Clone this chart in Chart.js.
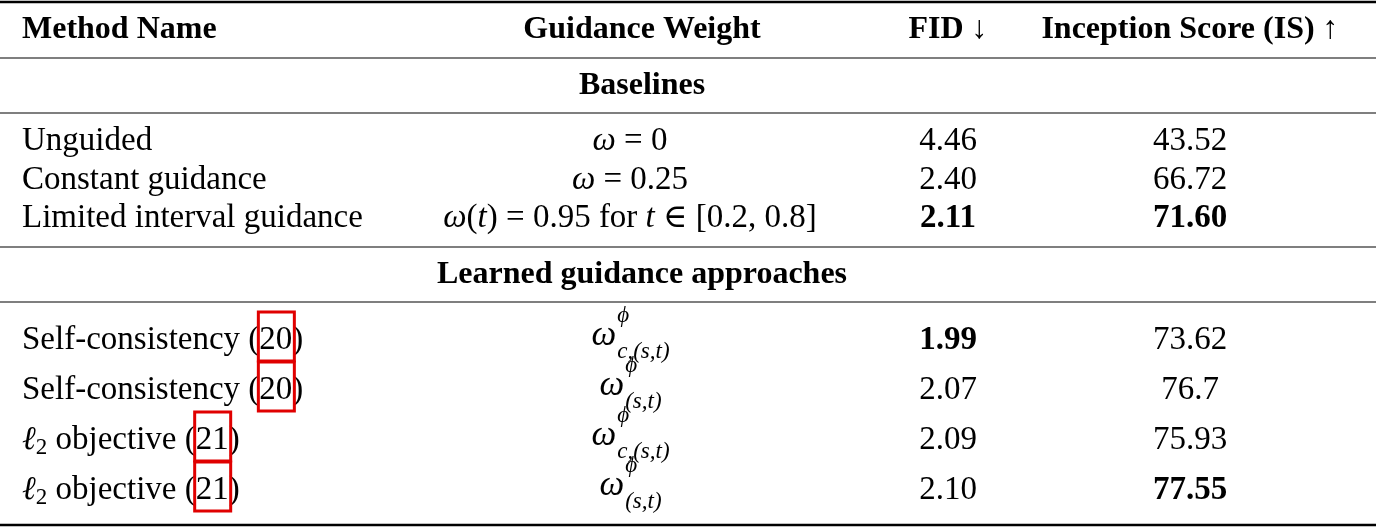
<!DOCTYPE html>
<html>
<head>
<meta charset="utf-8">
<script src="https://cdn.jsdelivr.net/npm/chart.js@4.4.1/dist/chart.umd.min.js"></script>
<style>
  html, body { margin: 0; padding: 0; background: #fff; }
  #wrap { width: 1376px; height: 530px; }
</style>
</head>
<body>
<div id="wrap"><canvas id="tableChart"></canvas></div>
<script>
// Table data
const headers = ["Method Name", "Guidance Weight", "FID \u2193", "Inception Score (IS) \u2191"];
const groups = ["Baselines", "Learned guidance approaches"];
const methods = ["Unguided", "Constant guidance", "Limited interval guidance",
  "Self-consistency (20)", "Self-consistency (20)", "\u2113\u2082 objective (21)", "\u2113\u2082 objective (21)"];
const weights = ["w0", "w025", "wint", "wcst", "wst", "wcst", "wst"];
const fidValues = ["4.46", "2.40", "2.11", "1.99", "2.07", "2.09", "2.10"];
const isValues = ["43.52", "66.72", "71.60", "73.62", "76.7", "75.93", "77.55"];
const fidBold = [false, false, true, true, false, false, false];
const isBold = [false, false, true, false, false, false, true];

// layout (in chart value units = pixels)
const rowY = [141, 180, 218, 340, 390, 440, 490];
const groupY = [86, 275];
const ruleY = [[2, 2.5], [58, 1.2], [113, 1.2], [247, 1.2], [302, 1.2], [525, 2.5]];
const colX = [22, 630, 948, 1190];
const SERIF = "'Liberation Serif', 'DejaVu Serif', serif";
const FS = 33, SS = 23;

function font(size, opts) {
  return (opts || "") + " " + size + "px " + SERIF;
}

// draw a sequence of [text, fontOpts, size, dy] pieces
function drawPieces(ctx, pieces, cx, cy, align) {
  let total = 0;
  for (const p of pieces) { ctx.font = font(p[2], p[1]); total += ctx.measureText(p[0]).width; }
  let x = align === "left" ? cx : cx - total / 2;
  for (const p of pieces) {
    ctx.font = font(p[2], p[1]);
    ctx.fillText(p[0], x, cy + (p[3] || 0));
    x += ctx.measureText(p[0]).width;
  }
  return total;
}

function weightPieces(key) {
  const I = "italic";
  if (key === "w0") return [["\u03c9", I, FS], [" = 0", "", FS]];
  if (key === "w025") return [["\u03c9", I, FS], [" = 0.25", "", FS]];
  if (key === "wint") return [["\u03c9", I, FS], ["(", "", FS], ["t", I, FS], [") = 0.95 for ", "", FS],
    ["t", I, FS], [" \u2208 [0.2, 0.8]", "", FS]];
  return null;
}

function drawOmega(ctx, key, cx, cy) {
  const sub = key === "wcst" ? "c,(s,t)" : "(s,t)";
  ctx.font = font(FS + 2, "italic");
  const w1 = ctx.measureText("\u03c9").width;
  ctx.font = font(SS, "italic");
  const w2 = ctx.measureText(sub).width;
  let x = cx - (w1 + w2) / 2;
  ctx.font = font(FS + 2, "italic");
  ctx.fillText("\u03c9", x, cy - 4);
  x += w1 + 1;
  ctx.font = font(SS, "italic");
  ctx.fillText("\u03d5", x, cy - 24);
  ctx.fillText(sub, x, cy + 12);
}

const tablePlugin = {
  id: "tablePlugin",
  afterDraw(chart) {
    const ctx = chart.ctx;
    const xs = chart.scales.x, ys = chart.scales.y;
    const px = v => xs.getPixelForValue(v), py = v => ys.getPixelForValue(v);
    ctx.save();
    ctx.fillStyle = "#000";
    ctx.textBaseline = "middle";

    // rules
    ctx.strokeStyle = "#000";
    for (const [y, lw] of ruleY) {
      ctx.lineWidth = lw;
      ctx.beginPath(); ctx.moveTo(px(0), py(y)); ctx.lineTo(px(1376), py(y)); ctx.stroke();
    }

    // header
    ctx.font = font(32, "bold");
    ctx.textAlign = "left";
    ctx.fillText(headers[0], px(colX[0]), py(30));
    ctx.textAlign = "center";
    ctx.fillText(headers[1], px(642), py(30));
    ctx.fillText(headers[2], px(colX[2]), py(30));
    ctx.fillText(headers[3], px(colX[3]), py(30));

    // group titles
    groups.forEach((g, i) => ctx.fillText(g, px(642), py(groupY[i])));

    // rows
    const boxes = [];
    methods.forEach((m, i) => {
      const y = py(rowY[i]);
      ctx.textAlign = "left";
      let pieces;
      const cite = m.match(/^(.*\()(\d+)(\))$/);
      if (m.startsWith("\u2113\u2082")) {
        pieces = [["\u2113", "italic", FS], ["2", "", SS, 8], [m.slice(2, m.indexOf("(") + 1), "", FS]];
      } else if (cite) {
        pieces = [[cite[1], "", FS]];
      } else {
        pieces = [[m, "", FS]];
      }
      const w = drawPieces(ctx, pieces, px(colX[0]), y, "left");
      if (cite) {
        ctx.font = font(FS, "");
        const x0 = px(colX[0]) + w;
        const wn = ctx.measureText(cite[2]).width;
        ctx.fillText(cite[2] + ")", x0, y);
        boxes.push([x0 - 1, wn + 3, y]);
      }
      ctx.textAlign = "left";
      const wp = weightPieces(weights[i]);
      if (wp) drawPieces(ctx, wp, px(colX[1]), y, "center");
      else drawOmega(ctx, weights[i], px(colX[1]), y);

      ctx.textAlign = "center";
      ctx.font = font(FS, fidBold[i] ? "bold" : "");
      ctx.fillText(fidValues[i], px(colX[2]), y);
      ctx.font = font(FS, isBold[i] ? "bold" : "");
      ctx.fillText(isValues[i], px(colX[3]), y);
    });

    // red citation boxes
    ctx.strokeStyle = "#e00000";
    ctx.lineWidth = 3;
    boxes.forEach(([x, w, y]) => ctx.strokeRect(x, y - 28, w, 49));
    ctx.restore();
  }
};

new Chart(document.getElementById("tableChart"), {
  type: "scatter",
  data: { datasets: [{ data: [] }] },
  options: {
    responsive: true,
    maintainAspectRatio: false,
    animation: false,
    layout: { padding: 0 },
    plugins: { legend: { display: false }, tooltip: { enabled: false } },
    scales: {
      x: { type: "linear", min: 0, max: 1376, display: false },
      y: { type: "linear", min: 0, max: 530, reverse: true, display: false }
    }
  },
  plugins: [tablePlugin]
});
</script>
</body>
</html>
